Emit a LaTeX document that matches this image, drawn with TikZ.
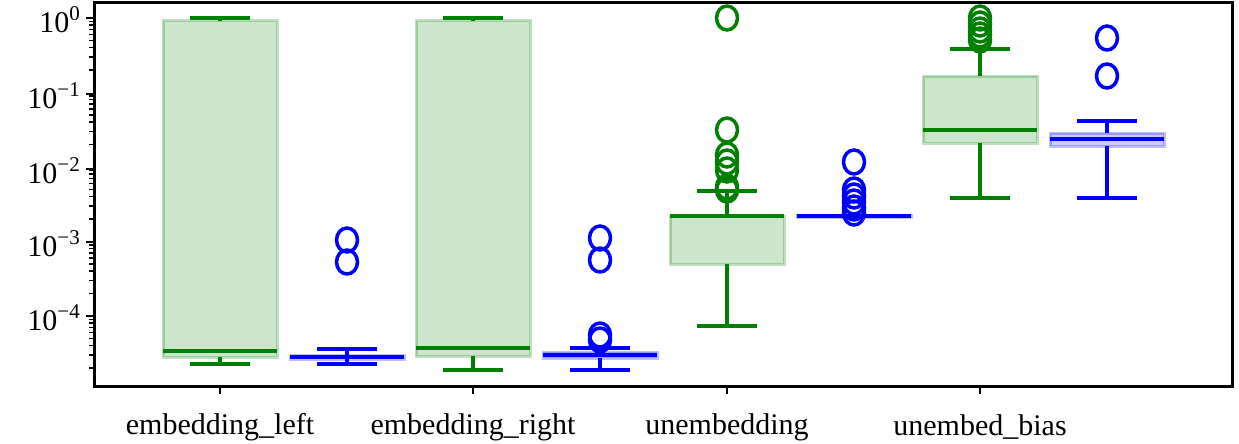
\documentclass[tikz,border=0pt]{standalone}
\usepackage{fontspec}
\setmainfont{Liberation Serif}
\begin{document}
\begin{tikzpicture}[x=1pt,y=-1pt,
  gline/.style={draw={rgb,255:red,0;green,128;blue,0},line width=3.2pt},
  bline/.style={draw={rgb,255:red,0;green,0;blue,255},line width=3.2pt},
  gbox/.style={fill={rgb,255:red,0;green,128;blue,0},fill opacity=0.2,draw={rgb,255:red,0;green,128;blue,0},draw opacity=0.25,line width=3pt},
  bbox/.style={fill={rgb,255:red,0;green,0;blue,255},fill opacity=0.2,draw={rgb,255:red,0;green,0;blue,255},draw opacity=0.25,line width=3pt},
  gout/.style={draw={rgb,255:red,0;green,128;blue,0},line width=3.5pt},
  bout/.style={draw={rgb,255:red,0;green,0;blue,255},line width=3.5pt},
  lab/.style={font=\fontsize{30}{34}\selectfont,inner sep=0pt}]
\useasboundingbox (0,0) rectangle (1239,444);
\newcommand\gbx[6]{%
  \draw[gbox] (#1-57,#2) rectangle (#1+57,#3);
  \draw[gline] (#1,#2) -- (#1,#5) (#1-30,#5) -- (#1+30,#5);
  \draw[gline] (#1,#3) -- (#1,#6) (#1-30,#6) -- (#1+30,#6);
  \draw[gline] (#1-57,#4) -- (#1+57,#4);}
\newcommand\bbx[6]{%
  \draw[bbox] (#1-57,#2) rectangle (#1+57,#3);
  \draw[bline] (#1,#2) -- (#1,#5) (#1-30,#5) -- (#1+30,#5);
  \draw[bline] (#1,#3) -- (#1,#6) (#1-30,#6) -- (#1+30,#6);
  \draw[bline] (#1-57,#4) -- (#1+57,#4);}
\gbx{220}{21}{357}{351}{18}{364}
\bbx{347}{355}{359}{357}{349}{364}
\gbx{473}{21}{356}{348}{18}{370}
\bbx{600}{352}{358}{355}{348}{370}
\gbx{727}{216}{264}{216}{191}{326}
\bbx{854}{215}{217}{216}{216}{216}
\gbx{980}{76}{143}{130}{49}{198}
\bbx{1107}{133}{146}{139}{121}{198}
\foreach \x/\y in {727/18,727/130,727/155,727/162,727/170,727/187,727/190,980/18,980/24,980/30,980/35,980/40}
  \draw[gout] (\x,\y) ellipse (10.5 and 12);
\foreach \x/\y in {347/240,347/262,600/238,600/260,600/335,600/340,854/162,854/190,854/196,854/202,854/208,854/213,1107/38,1107/76}
  \draw[bout] (\x,\y) ellipse (10.5 and 12);
\draw[line width=3pt] (94,3) rectangle (1232,386);
\foreach \x in {220,473,727,980} \draw[line width=2.5pt] (\x,386) -- (\x,394);
\node[lab] (l1) at (220,427) {embedding\_left};
\node[lab] (l2) at (473,427) {embedding\_right};
\node[lab] (l3) at (727,427) {unembedding};
\node[lab] (l4) at (980,427) {unembed\_bias};
\foreach \e/\s/\y in {0/0/18,1/−1/94,2/−2/169,3/−3/242,4/−4/316}{
  \draw[line width=2pt] (94,\y) -- (86,\y);
  \node[lab,anchor=east] (t\e) at (80,\y+2) {10\raisebox{12pt}{\fontsize{21}{24}\selectfont\s}};}
\foreach \d in {-5,...,-1}
  \foreach \k in {2,...,9}{
    \pgfmathsetmacro\yy{18-74.5*(\d+ln(\k)/ln(10))}
    \pgfmathparse{(\yy>4 && \yy<385)?1:0}
    \ifnum\pgfmathresult=1 \draw[line width=1.5pt] (94,\yy) -- (89,\yy);\fi}
\end{tikzpicture}
\end{document}
